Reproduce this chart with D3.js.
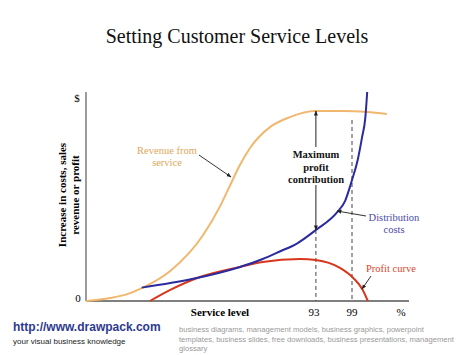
<!DOCTYPE html>
<html><head><meta charset="utf-8">
<script src="https://cdn.jsdelivr.net/npm/d3@7"></script>
<style>body{margin:0;background:#fff;} svg{display:block;}</style>
</head><body>
<script>
// Service level (x) and $ index (y) values
const revenueX = [57.0,60.8,63.5,65.8,70.3,75.5,78.2,79.7,81.3,82.9,86.1,89.2,93.2,97.6,101.4,104.5];
const revenueY = [0,1.4,3.3,6.2,14.4,31.6,45.5,55.0,65.1,73.2,83.3,88.0,90.9,90.9,90.4,89.5];
const costX = [65.8,73.9,81.3,84.9,87.6,90.3,93.3,96.6,97.9,99.0,99.9,100.6,101.1,101.4];
const costY = [6.4,10.6,16.3,20.1,23.7,27.5,34.0,42.3,47.8,57.9,67.5,78.5,87.6,100];
const profitX = [67.1,70.3,75.0,81.3,84.9,90.8,93.3,97.1,99.2,100.7,101.5];
const profitY = [0,5.3,11.5,16.3,18.7,20.1,19.6,15.8,11.0,5.3,0];
const xTicks = [93, 99];
const title = "Setting Customer Service Levels";

const W = 474, H = 355;
const svg = d3.select("body").append("svg").attr("width", W).attr("height", H);
const x = d3.scaleLinear().domain([57, 108]).range([86, 409]);
const y = d3.scaleLinear().domain([0, 100]).range([301, 92]);

const serif = "'Liberation Serif', 'DejaVu Serif', serif";
const sans = "'Liberation Sans', Arial, sans-serif";

svg.append("defs").append("marker").attr("id","ah").attr("viewBox","0 0 10 10")
  .attr("refX",9).attr("refY",5).attr("markerWidth",5).attr("markerHeight",5).attr("orient","auto-start-reverse")
  .append("path").attr("d","M0,1L10,5L0,9z").attr("fill","#222");

svg.append("text").attr("x", 237).attr("y", 43).attr("text-anchor","middle")
  .attr("font-family", serif).attr("font-size", 20).attr("fill","#111").text(title);

// axes
svg.append("line").attr("x1", x(57)).attr("x2", x(57)).attr("y1", y(100)).attr("y2", y(0))
  .attr("stroke","#666").attr("stroke-width",1.3);
svg.append("line").attr("x1", x(57)).attr("x2", x(108)).attr("y1", y(0)).attr("y2", y(0))
  .attr("stroke","#555").attr("stroke-width",1.3);

svg.append("text").attr("x", 77).attr("y", 102).attr("text-anchor","middle")
  .attr("font-family", serif).attr("font-size", 11).text("$");
svg.append("text").attr("x", 78).attr("y", 302).attr("text-anchor","middle")
  .attr("font-family", serif).attr("font-size", 11).text("0");

// x tick labels
svg.selectAll(".xt").data(xTicks).enter().append("text")
  .attr("x", d => x(d)).attr("y", 316).attr("text-anchor","middle")
  .attr("font-family", serif).attr("font-size", 11).text(d => d);
svg.append("text").attr("x", 401).attr("y", 316).attr("text-anchor","middle")
  .attr("font-family", serif).attr("font-size", 11).text("%");
svg.append("text").attr("x", 220).attr("y", 316).attr("text-anchor","middle")
  .attr("font-family", serif).attr("font-size", 11).attr("font-weight","bold").text("Service level");

// y axis title
const yt = svg.append("text").attr("transform","translate(66,195) rotate(-90)")
  .attr("text-anchor","middle").attr("font-family", serif).attr("font-size", 11).attr("font-weight","bold");
yt.append("tspan").attr("x",0).attr("dy",0).text("Increase in costs, sales");
yt.append("tspan").attr("x",0).attr("dy",13).text("revenue or profit");

// dashed guide lines
svg.append("line").attr("x1", x(93.3)).attr("x2", x(93.3)).attr("y1", y(34.0)).attr("y2", y(0))
  .attr("stroke","#444").attr("stroke-dasharray","4,3");
svg.append("line").attr("x1", x(99)).attr("x2", x(99)).attr("y1", y(86.6)).attr("y2", y(0))
  .attr("stroke","#444").attr("stroke-dasharray","4,3");

const line = (xs, ys) => d3.line().x((d,i)=>x(xs[i])).y((d,i)=>y(ys[i])).curve(d3.curveMonotoneX)(xs);

svg.append("path").attr("d", line(revenueX, revenueY)).attr("fill","none").attr("stroke","#f2b76e").attr("stroke-width",2);
svg.append("path").attr("d", line(profitX, profitY)).attr("fill","none").attr("stroke","#d8361c").attr("stroke-width",2);
svg.append("path").attr("d", line(costX, costY)).attr("fill","none").attr("stroke","#2b2b9f").attr("stroke-width",2);

// max profit double arrow
svg.append("line").attr("x1", x(93.3)).attr("x2", x(93.3)).attr("y1", y(34.0)).attr("y2", y(90.9))
  .attr("stroke","#222").attr("stroke-width",1).attr("marker-start","url(#ah)").attr("marker-end","url(#ah)");
svg.append("rect").attr("x", 284).attr("y", 147).attr("width", 64).attr("height", 38).attr("fill","#fff");
const mp = svg.append("text").attr("text-anchor","middle").attr("font-family", serif)
  .attr("font-size", 10.5).attr("font-weight","bold").attr("fill","#111");
["Maximum","profit","contribution"].forEach((t,i)=>mp.append("tspan").attr("x",316).attr("y",158+i*12.5).text(t));

// labels with arrows
const lab = (lines, cx, y0, col) => {
  const t = svg.append("text").attr("text-anchor","middle").attr("font-family", serif).attr("font-size", 10.5).attr("fill", col);
  lines.forEach((s,i)=>t.append("tspan").attr("x",cx).attr("y",y0+i*12).text(s));
};
lab(["Revenue from","service"], 167, 154, "#e0a65a");
svg.append("line").attr("x1",199).attr("y1",155).attr("x2",231).attr("y2",177).attr("stroke","#333").attr("marker-end","url(#ah)");
lab(["Distribution","costs"], 394, 221, "#4a4aa6");
svg.append("line").attr("x1",366).attr("y1",216).attr("x2",337).attr("y2",211).attr("stroke","#333").attr("marker-end","url(#ah)");
svg.append("text").attr("x",366).attr("y",272).attr("font-family", serif).attr("font-size",10.5).attr("fill","#d8462a").text("Profit curve");
svg.append("line").attr("x1",371).attr("y1",276).attr("x2",362).attr("y2",289).attr("stroke","#333").attr("marker-end","url(#ah)");

// footer
svg.append("text").attr("x",13).attr("y",331).attr("font-family", sans).attr("font-size",12).attr("font-weight","bold").attr("fill","#2c3a8e").text("http://www.drawpack.com");
svg.append("text").attr("x",13).attr("y",344).attr("font-family", sans).attr("font-size",8).attr("fill","#222").text("your visual business knowledge");
const ft = svg.append("text").attr("font-family", sans).attr("font-size",7.6).attr("fill","#999");
["business diagrams, management models, business graphics, powerpoint",
 "templates, business slides, free downloads, business presentations, management",
 "glossary"].forEach((s,i)=>ft.append("tspan").attr("x",179).attr("y",332+i*9.5).text(s));
</script>
</body></html>
